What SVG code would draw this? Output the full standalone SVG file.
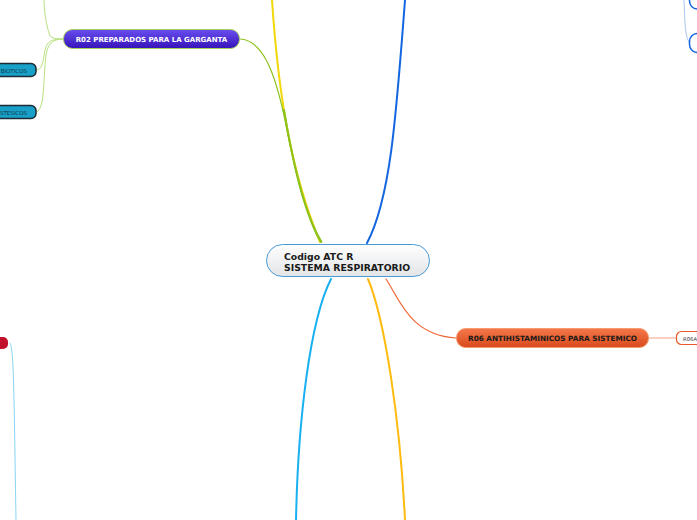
<svg xmlns="http://www.w3.org/2000/svg" width="697" height="520" viewBox="0 0 697 520">
<defs>
<linearGradient id="gCenter" x1="0" y1="0" x2="0" y2="1"><stop offset="0" stop-color="#ffffff"/><stop offset="1" stop-color="#e2e4e6"/></linearGradient>
<linearGradient id="gPurple" x1="0" y1="0" x2="0" y2="1"><stop offset="0" stop-color="#6a4ef0"/><stop offset="1" stop-color="#3514b8"/></linearGradient>
<linearGradient id="gOrange" x1="0" y1="0" x2="0" y2="1"><stop offset="0" stop-color="#f4784a"/><stop offset="1" stop-color="#d84a1c"/></linearGradient>
<style>
.t{font-family:Verdana,"DejaVu Sans",sans-serif;font-weight:bold}
.s{font-family:Verdana,"DejaVu Sans",sans-serif}
.c{fill:none;stroke-linecap:round}
</style>
</defs>
<rect width="697" height="520" fill="#ffffff"/>
<g id="connectors">
<path class="c" d="M272,0 C278,90 290,170 320,242" stroke="#f2d80a" stroke-width="2"/>
<path class="c" d="M240,39 C262,40 275,70 286,125 C296,175 305,215 322,242" stroke="#8cc21a" stroke-width="1.2"/>
<path class="c" d="M284,110 C294,170 305,215 321,242" stroke="#8cc21a" stroke-width="2"/>
<path class="c" d="M405,0 C396,120 390,200 367,243" stroke="#1466e0" stroke-width="2"/>
<path class="c" d="M386,279 C400,300 410,335 456,338" stroke="#f06636" stroke-width="1.2"/>
<path class="c" d="M331,279 C310,320 298,420 296,520" stroke="#18b0f0" stroke-width="2"/>
<path class="c" d="M368,279 C385,320 400,420 405,520" stroke="#ffbb10" stroke-width="2"/>
<path class="c" d="M63,39 C56,39 52,38 50,36 C46,25 44,10 44,0" stroke="#b8e080" stroke-width="1"/>
<path class="c" d="M63,39 C50,39 47,42 45,50 C43,62 42,70 37,70" stroke="#b8e080" stroke-width="1"/>
<path class="c" d="M63,39 C52,39 48,44 46,55 C43,80 45,108 37,112" stroke="#b8e080" stroke-width="1"/>
<path class="c" d="M649,338 L676,338" stroke="#f8a080" stroke-width="1"/>
<path class="c" d="M684,0 C685,15 684,38 690,43" stroke="#a8c4f0" stroke-width="1"/>
<path class="c" d="M10,343 C14,345 14,400 16,520" stroke="#88d4f4" stroke-width="1"/>
</g>
<g id="center">
<rect x="266.5" y="244.5" width="163" height="32" rx="16" fill="url(#gCenter)" stroke="#4a9ad8" stroke-width="1"/>
<text class="t" x="284" y="259.5" font-size="9.3" fill="#1a1a1a">Codigo ATC R</text>
<text class="t" x="284" y="270.5" font-size="9.3" fill="#1a1a1a">SISTEMA RESPIRATORIO</text>
</g>
<g id="r02">
<rect x="63.5" y="29.5" width="176" height="19" rx="9" fill="url(#gPurple)" stroke="#a8d060" stroke-width="1"/>
<text class="t" x="151.5" y="42" font-size="7" fill="#ffffff" text-anchor="middle">R02 PREPARADOS PARA LA GARGANTA</text>
</g>
<g id="r02-antibioticos">
<rect x="-60" y="63.5" width="96" height="13" rx="5" fill="#18a0c8" stroke="#1e2a36" stroke-width="1.5"/>
<text class="s" x="27" y="72.5" font-size="5.5" fill="#103040" text-anchor="end">BIOTICOS</text>
</g>
<g id="r02-anestesicos">
<rect x="-60" y="105.5" width="96" height="13" rx="5" fill="#18a0c8" stroke="#1e2a36" stroke-width="1.5"/>
<text class="s" x="27" y="114.5" font-size="5.5" fill="#103040" text-anchor="end">STESICOS</text>
</g>
<g id="r06">
<rect x="456.5" y="328.5" width="192" height="19" rx="9" fill="url(#gOrange)" stroke="#f89a70" stroke-width="1"/>
<text class="t" x="552.5" y="341" font-size="7.3" fill="#1a1a1a" text-anchor="middle">R06 ANTIHISTAMINICOS PARA SISTEMICO</text>
</g>
<g id="r06a">
<rect x="676.5" y="331.5" width="60" height="13" rx="5" fill="#ffffff" stroke="#e8582a" stroke-width="1.2"/>
<text class="s" x="683" y="340.5" font-size="5.3" fill="#333333">R06A</text>
</g>
<g id="top-right-1">
<rect x="689.5" y="-10" width="40" height="19" rx="8" fill="#ffffff" stroke="#1466e0" stroke-width="1.5"/>
</g>
<g id="top-right-2">
<rect x="689.5" y="33.5" width="40" height="19" rx="8" fill="#ffffff" stroke="#1466e0" stroke-width="1.5"/>
</g>
<g id="left-red">
<rect x="-30" y="337" width="38" height="12" rx="5" fill="#c0102c"/>
</g>
</svg>
